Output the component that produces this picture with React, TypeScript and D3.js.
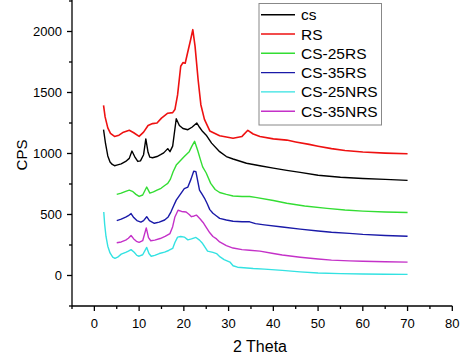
import React from 'react';
import * as d3 from 'd3';

// 2 Theta / CPS pairs
const csData: [number, number][] = [
  [2.05, 1195], [2.5, 1080], [3, 980], [3.5, 930], [4, 910], [4.5, 900], [5, 905], [6, 915], [7, 935],
  [7.8, 960], [8.4, 1020], [9, 975], [9.7, 935], [10.3, 940], [11, 990], [11.5, 1120], [12, 1010],
  [12.4, 970], [13, 965], [14, 975], [14.8, 990], [15.5, 1005], [16.4, 1040], [16.9, 1015], [17.5, 1060],
  [18.3, 1285], [19, 1230], [19.8, 1205], [20.9, 1195], [21.8, 1215], [22.9, 1250], [23.5, 1215],
  [24.2, 1180], [25, 1150], [26.2, 1085], [28, 1015], [29.5, 975], [31, 955], [34, 920], [37, 900],
  [40, 880], [43, 862], [46, 845], [50, 822], [55, 805], [60, 795], [65, 788], [70, 780],
];

const rsData: [number, number][] = [
  [2.05, 1395], [2.4, 1300], [3, 1210], [3.6, 1165], [4.5, 1140], [5.5, 1150], [6.5, 1175], [7.8, 1190],
  [8.8, 1170], [10, 1140], [11, 1175], [12, 1230], [13, 1245], [14, 1250], [15, 1290], [16.4, 1330],
  [17.5, 1335], [18, 1360], [18.6, 1480], [19.3, 1715], [19.8, 1745], [20.3, 1740], [20.8, 1820],
  [21.5, 1930], [22, 2015], [22.5, 1880], [23.2, 1600], [23.8, 1400], [24.6, 1280], [25.8, 1185],
  [28, 1145], [31, 1125], [33, 1140], [34.3, 1190], [35.5, 1160], [37, 1140], [40, 1120], [43, 1110],
  [45, 1095], [48, 1075], [50, 1060], [53, 1040], [56, 1025], [60, 1012], [65, 1003], [70, 998],
];

const cs25rsData: [number, number][] = [
  [5, 665], [6, 675], [7, 690], [7.8, 700], [8.5, 690], [9.3, 665], [10, 648], [10.8, 660], [11.7, 725],
  [12.4, 675], [13.2, 685], [14, 700], [14.9, 715], [15.8, 740], [16.4, 755], [17, 790], [17.6, 850],
  [18.3, 905], [19.2, 940], [20.1, 975], [21.2, 1015], [21.8, 1060], [22.4, 1100], [23.1, 1025],
  [23.7, 950], [24.2, 890], [25, 840], [26, 755], [27, 705], [28, 680], [29.5, 665], [31, 652],
  [33, 648], [34.7, 648], [36, 640], [40, 615], [43, 592], [47, 570], [52, 550], [56, 537], [60, 528],
  [65, 520], [70, 516],
];

const cs35rsData: [number, number][] = [
  [5, 450], [6, 462], [7, 478], [7.6, 490], [8.2, 508], [8.8, 475], [9.5, 450], [10.4, 438], [11, 450],
  [11.7, 482], [12.3, 450], [13.4, 428], [14.5, 438], [15.7, 455], [16.5, 480], [17.1, 520], [17.7, 570],
  [18.3, 618], [19.2, 665], [20.1, 712], [20.9, 725], [21.6, 790], [22.2, 855], [22.7, 850], [23.5, 700],
  [24.1, 665], [24.6, 635], [25.2, 590], [25.8, 540], [26.5, 510], [27.3, 488], [28, 468], [29.5, 455],
  [31, 445], [33, 440], [34.7, 440], [36, 425], [38, 415], [42, 398], [46, 380], [50, 365], [53, 355],
  [57, 345], [60, 337], [65, 328], [70, 322],
];

const cs25nrsData: [number, number][] = [
  [2.1, 520], [2.3, 420], [2.6, 320], [3, 240], [3.5, 185], [4.1, 150], [4.6, 140], [5.2, 150], [6, 175],
  [7, 190], [7.6, 200], [8.2, 212], [8.9, 190], [9.5, 165], [10, 158], [10.8, 170], [11.7, 230],
  [12.2, 180], [12.7, 158], [13.5, 165], [14.5, 180], [15.7, 192], [16.6, 205], [17.5, 222], [18, 270],
  [18.6, 315], [19.3, 320], [20.1, 315], [20.9, 292], [21.7, 300], [22.7, 312], [23.5, 290], [24.2, 262],
  [25.3, 200], [26.5, 190], [27.3, 180], [28.1, 152], [29, 130], [30.3, 110], [31, 80], [32, 68],
  [35.5, 57], [38, 52], [42, 42], [46, 30], [50, 20], [55, 15], [60, 12], [65, 10], [70, 9],
];

const cs35nrsData: [number, number][] = [
  [5, 268], [6, 275], [7, 290], [7.6, 305], [8.2, 328], [8.8, 300], [9.4, 280], [10, 272], [10.8, 285],
  [11.6, 390], [12.1, 310], [12.6, 285], [13.5, 290], [14.7, 303], [15.8, 320], [16.9, 344], [17.5, 400],
  [18, 480], [18.7, 535], [19.5, 525], [20.5, 520], [21.2, 500], [21.7, 482], [22.3, 488], [22.8, 495],
  [23.6, 465], [24.3, 435], [25, 395], [25.8, 350], [26.5, 320], [27.3, 300], [28, 275], [29.5, 245],
  [31, 225], [33, 212], [34.7, 207], [37, 200], [40, 180], [42, 168], [46, 150], [50, 135], [53, 126],
  [57, 120], [60, 117], [65, 113], [70, 110],
];

const seriesNames = ['cs', 'RS', 'CS-25RS', 'CS-35RS', 'CS-25NRS', 'CS-35NRS'];
const seriesColors = ['#000000', '#ee1111', '#33dd33', '#1a1aa8', '#33e2e2', '#c431c8'];
const seriesData = [csData, rsData, cs25rsData, cs35rsData, cs25nrsData, cs35nrsData];

const xTicks = [0, 10, 20, 30, 40, 50, 60, 70, 80];
const yTicks = [0, 500, 1000, 1500, 2000];

function App() {
  const width = 474;
  const height = 362;
  const font = 'Arial, "Liberation Sans", sans-serif';

  const x = d3.scaleLinear().domain([-5, 80]).range([72, 452.3]);
  const y = d3.scaleLinear().domain([-250, 2250]).range([306, 1]);

  const line = d3.line<[number, number]>()
    .x(d => x(d[0]))
    .y(d => y(d[1]));

  const xMinor = d3.range(-5, 81, 5).filter(v => v % 10 !== 0);
  const yMinor = d3.range(-250, 2251, 250).filter(v => v % 500 !== 0);

  // draw order: lower traces first, black and red on top
  const drawOrder = [4, 5, 3, 2, 1, 0];

  const legendX = 259;
  const legendY = 3.5;
  const rowH = 19.3;

  return (
    <svg width={width} height={height} style={{ display: 'block' }}>
      <style>{`body{margin:0}`}</style>
      <rect width={width} height={height} fill="#fff" />

      {drawOrder.map(i => (
        <path
          key={seriesNames[i]}
          d={line(seriesData[i]) || ''}
          fill="none"
          stroke={seriesColors[i]}
          strokeWidth={i === 1 ? 1.6 : 1.4}
          strokeLinejoin="round"
        />
      ))}

      {/* axes */}
      <g stroke="#000" strokeWidth={1.3}>
        <line x1={x(-5)} x2={x(80)} y1={y(-250)} y2={y(-250)} />
        <line x1={x(-5)} x2={x(-5)} y1={y(-250)} y2={0} />
        {xTicks.map(t => (
          <line key={t} x1={x(t)} x2={x(t)} y1={y(-250)} y2={y(-250) + 5} />
        ))}
        {xMinor.map(t => (
          <line key={t} x1={x(t)} x2={x(t)} y1={y(-250)} y2={y(-250) + 3} />
        ))}
        {yTicks.map(t => (
          <line key={t} x1={x(-5) - 5} x2={x(-5)} y1={y(t)} y2={y(t)} />
        ))}
        {yMinor.map(t => (
          <line key={t} x1={x(-5) - 3} x2={x(-5)} y1={y(t)} y2={y(t)} />
        ))}
      </g>

      <g fontFamily={font} fontSize={13} fill="#000">
        {xTicks.map(t => (
          <text key={t} x={x(t)} y={327.5} textAnchor="middle">{t}</text>
        ))}
        {yTicks.map(t => (
          <text key={t} x={62} y={y(t) + 4.5} textAnchor="end">{t}</text>
        ))}
      </g>

      <text x={260} y={351.5} textAnchor="middle" fontFamily={font} fontSize={16}>2 Theta</text>
      <text transform="translate(27,155) rotate(-90)" textAnchor="middle" fontFamily={font} fontSize={15}>CPS</text>

      {/* legend */}
      <rect x={legendX} y={legendY} width={122.5} height={121.5} fill="#fff" stroke="#888" strokeWidth={1} />
      {seriesNames.map((name, i) => {
        const cy = 14.7 + i * rowH;
        return (
          <g key={name}>
            <line x1={261} x2={295} y1={cy} y2={cy} stroke={seriesColors[i]} strokeWidth={1.4} />
            <text x={301} y={cy + 5.5} fontFamily={font} fontSize={15.5}>{name}</text>
          </g>
        );
      })}
    </svg>
  );
}

export default App;
